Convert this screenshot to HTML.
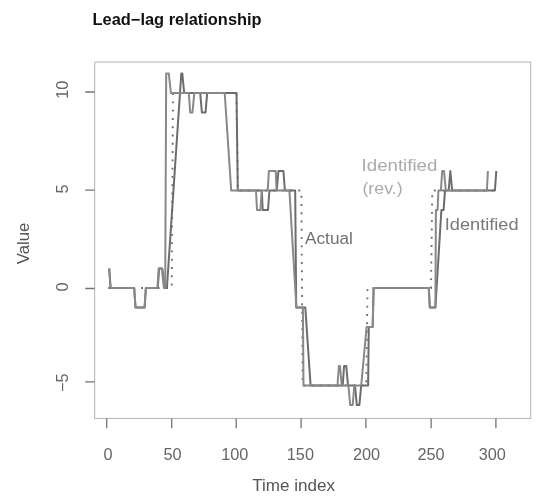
<!DOCTYPE html>
<html>
<head>
<meta charset="utf-8">
<title>Lead-lag relationship</title>
<style>
html,body{margin:0;padding:0;background:#fff;}
body{width:550px;height:502px;overflow:hidden;}
svg{display:block;}
text{font-family:"Liberation Sans",sans-serif;font-size:16.3px;}
</style>
</head>
<body>
<svg width="550" height="502" viewBox="0 0 550 502">
<rect x="0" y="0" width="550" height="502" fill="#ffffff"/>

<!-- title -->
<text x="92.6" y="25.4" font-weight="bold" fill="#111111" textLength="169" lengthAdjust="spacingAndGlyphs">Lead−lag relationship</text>

<g transform="translate(0,0.3)">
<!-- dotted: actual -->
<path d="M108.17,287.7 L171.7,287.7 L173,92.7 L236.5,92.7 L237.8,190.2 L301.35,190.2 L302.65,385.2 L366.2,385.2 L367.5,287.7 L431,287.7 L432.3,190.2 L495.8,190.2" fill="none" stroke="#707070" stroke-width="1.9" stroke-dasharray="1.9 6.38" stroke-dashoffset="0.19"/>



<!-- identified : dark -->
<path d="M109.2,268.2 L110.6,287.7 L134.2,287.7 L135.5,307.2 L144.6,307.2 L145.9,287.7 L157.8,287.7 L159.1,268.2 L162.3,268.2 L164.6,287.7 L166.9,287.7 L181.3,73.2 L182.3,73.2 L184.2,92.7 L200.2,92.7 L201.9,112.2 L205.5,112.2 L207.2,92.7 L236.5,92.7 L237.8,190.2 L261.8,190.2 L262.7,209.7 L268,209.7 L269.4,190.2 L276.8,190.2 L278.4,170.7 L283.4,170.7 L284.9,190.2 L295.2,190.2 L296.2,307.2 L305.3,307.2 L310.6,385.2 L342.7,385.2 L344.1,365.7 L346.3,365.7 L348,385.2 L355,385.2 L356.8,404.7 L359.4,404.7 L361.2,385.2 L368.1,385.2 L368.8,326.7 L372.7,326.7 L373.6,287.7 L428.8,287.7 L429.8,307.2 L435.4,307.2 L441.4,209.7 L443.6,209.7 L445,190.2 L448.7,190.2 L450.3,170.7 L452.2,190.2 L494.9,190.2 L496.3,170.7" fill="none" stroke="#6c6c6c" stroke-width="2" stroke-linejoin="round"/>
<!-- identified (rev.) : light -->
<path d="M109.2,268.2 L110.6,287.7 L134.2,287.7 L135.5,307.2 L144.6,307.2 L145.9,287.7 L157.4,287.7 L158.7,268.2 L161.8,268.2 L163.9,287.7 L165.2,287.7 L166.2,73.2 L168.8,73.2 L170.9,92.7 L188.8,92.7 L190.2,112.2 L192.5,112.2 L194.3,92.7 L224.7,92.7 L231.2,190.2 L256,190.2 L257,209.7 L260.5,209.7 L261.7,190.2 L267.7,190.2 L268.9,170.7 L275.7,170.7 L276.6,190.2 L289.4,190.2 L296.4,307.2 L302.9,307.2 L303.5,385.2 L337.5,385.2 L338.9,365.7 L340,365.7 L341.7,385.2 L348.4,385.2 L350.2,404.7 L352.7,404.7 L354.3,385.2 L361.2,385.2 L366.6,326.7 L372.7,326.7 L373.6,287.7 L428.8,287.7 L429.8,307.2 L435.4,307.2 L435.9,209.7 L437.6,209.7 L438.4,190.2 L440.9,190.2 L442.2,170.7 L444,170.7 L445.8,190.2 L486.9,190.2 L487.9,170.7" fill="none" stroke="#888888" stroke-width="2" stroke-linejoin="round"/>
</g>
<!-- plot box -->
<rect x="94.65" y="62.05" width="436.05" height="356.45" fill="none" stroke="#bababa" stroke-width="1.1"/>

<!-- x ticks -->
<g stroke="#747474" stroke-width="1.3" fill="none">
<path d="M106.7,418.5V428.2 M171.7,418.5V428.2 M236.2,418.5V428.2 M301.1,418.5V428.2 M365.9,418.5V428.2 M431.1,418.5V428.2 M495.9,418.5V428.2"/>
<path d="M94.65,92H85.2 M94.65,190.1H85.2 M94.65,288.5H85.2 M94.65,381.8H85.2"/>
</g>

<!-- x tick labels -->
<g fill="#666666" text-anchor="middle">
<text x="108" y="459.7">0</text>
<text x="172.5" y="459.7">50</text>
<text x="234.8" y="459.7">100</text>
<text x="300.4" y="459.7">150</text>
<text x="366.5" y="459.7">200</text>
<text x="431.1" y="459.7">250</text>
<text x="492.3" y="459.7">300</text>
</g>

<!-- y tick labels -->
<g fill="#666666" text-anchor="middle">
<text transform="translate(68.1,89.8) rotate(-90)">10</text>
<text transform="translate(68.1,188.9) rotate(-90)">5</text>
<text transform="translate(68.1,287) rotate(-90)">0</text>
<text transform="translate(68.1,382.8) rotate(-90)">−5</text>
</g>

<!-- axis titles -->
<text x="252.3" y="490.5" fill="#555555" textLength="82.7" lengthAdjust="spacingAndGlyphs">Time index</text>
<text transform="translate(29.1,264.3) rotate(-90)" fill="#555555" textLength="41.6" lengthAdjust="spacingAndGlyphs">Value</text>

<!-- annotations -->
<text x="305.1" y="244.1" fill="#707070" textLength="47.7" lengthAdjust="spacingAndGlyphs">Actual</text>
<text x="444.8" y="229.5" fill="#787878" textLength="73.8" lengthAdjust="spacingAndGlyphs">Identified</text>
<text x="361.6" y="171" fill="#ababab" textLength="75.8" lengthAdjust="spacingAndGlyphs">Identified</text>
<text x="362.4" y="193.8" fill="#ababab" textLength="40.2" lengthAdjust="spacingAndGlyphs">(rev.)</text>
</svg>
</body>
</html>
